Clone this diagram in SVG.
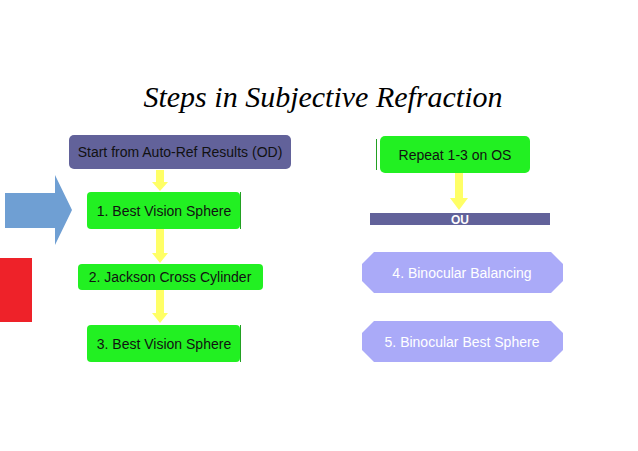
<svg xmlns="http://www.w3.org/2000/svg" width="638" height="451" viewBox="0 0 638 451">
<style>
.t{font-family:"Liberation Sans",Arial,sans-serif;font-size:14px;text-anchor:middle;fill:#111}
.g{fill:#22f022}
.y{fill:#ffff66}
.p{fill:#aaaaf8}
.w{font-family:"Liberation Sans",Arial,sans-serif;font-size:14px;text-anchor:middle;fill:#fff}
</style>
<rect width="638" height="451" fill="#fff"/>
<text x="323" y="107" font-family="Liberation Serif,serif" font-style="italic" font-size="30" text-anchor="middle" fill="#000">Steps in Subjective Refraction</text>
<path d="M5 193H55V175L72 210L55 245V228H5Z" fill="#6f9fd3"/>
<rect x="0" y="258" width="32" height="64" fill="#ee2229"/>
<g id="connectors">
<path class="y" d="M156 170H164V182H168L160 191L152 182H156Z"/>
<path class="y" d="M156 229H164V253H168L160 263L152 253H156Z"/>
<path class="y" d="M156 290H164V313H168L160 323L152 313H156Z"/>
<path class="y" d="M455 173H463V198H468L459 210L450 198H455Z"/>
</g>
<g id="start"><rect x="69" y="135" width="222" height="34" rx="5" fill="#62629a"/><text class="t" x="180" y="157">Start from Auto-Ref Results (OD)</text></g>
<g id="s1"><rect class="g" x="87" y="192" width="153" height="37" rx="4"/><rect x="240" y="192" width="1" height="37" fill="#22a022"/><text class="t" x="164" y="216">1. Best Vision Sphere</text></g>
<g id="s2"><rect class="g" x="78" y="264" width="185" height="26" rx="4"/><text class="t" x="170" y="282">2. Jackson Cross Cylinder</text></g>
<g id="s3"><rect class="g" x="87" y="325" width="153" height="37" rx="4"/><rect x="240" y="325" width="1" height="37" fill="#22a022"/><text class="t" x="164" y="349">3. Best Vision Sphere</text></g>
<g id="repeat"><rect class="g" x="380" y="136" width="150" height="37" rx="5"/><rect x="376" y="139" width="1" height="31" fill="#22a022"/><text class="t" x="455" y="160">Repeat 1-3 on OS</text></g>
<g id="ou"><rect x="370" y="213" width="180" height="12" fill="#62629a"/><text x="460" y="224" font-family="Liberation Sans,sans-serif" font-weight="bold" font-size="12" text-anchor="middle" fill="#fff">OU</text></g>
<g id="s4"><path class="p" d="M374 252H551L563 264V281L551 293H374L362 281V264Z"/><text class="w" x="462" y="278">4. Binocular Balancing</text></g>
<g id="s5"><path class="p" d="M374 321H551L563 333V350L551 362H374L362 350V333Z"/><text class="w" x="462" y="347">5. Binocular Best Sphere</text></g>
</svg>
